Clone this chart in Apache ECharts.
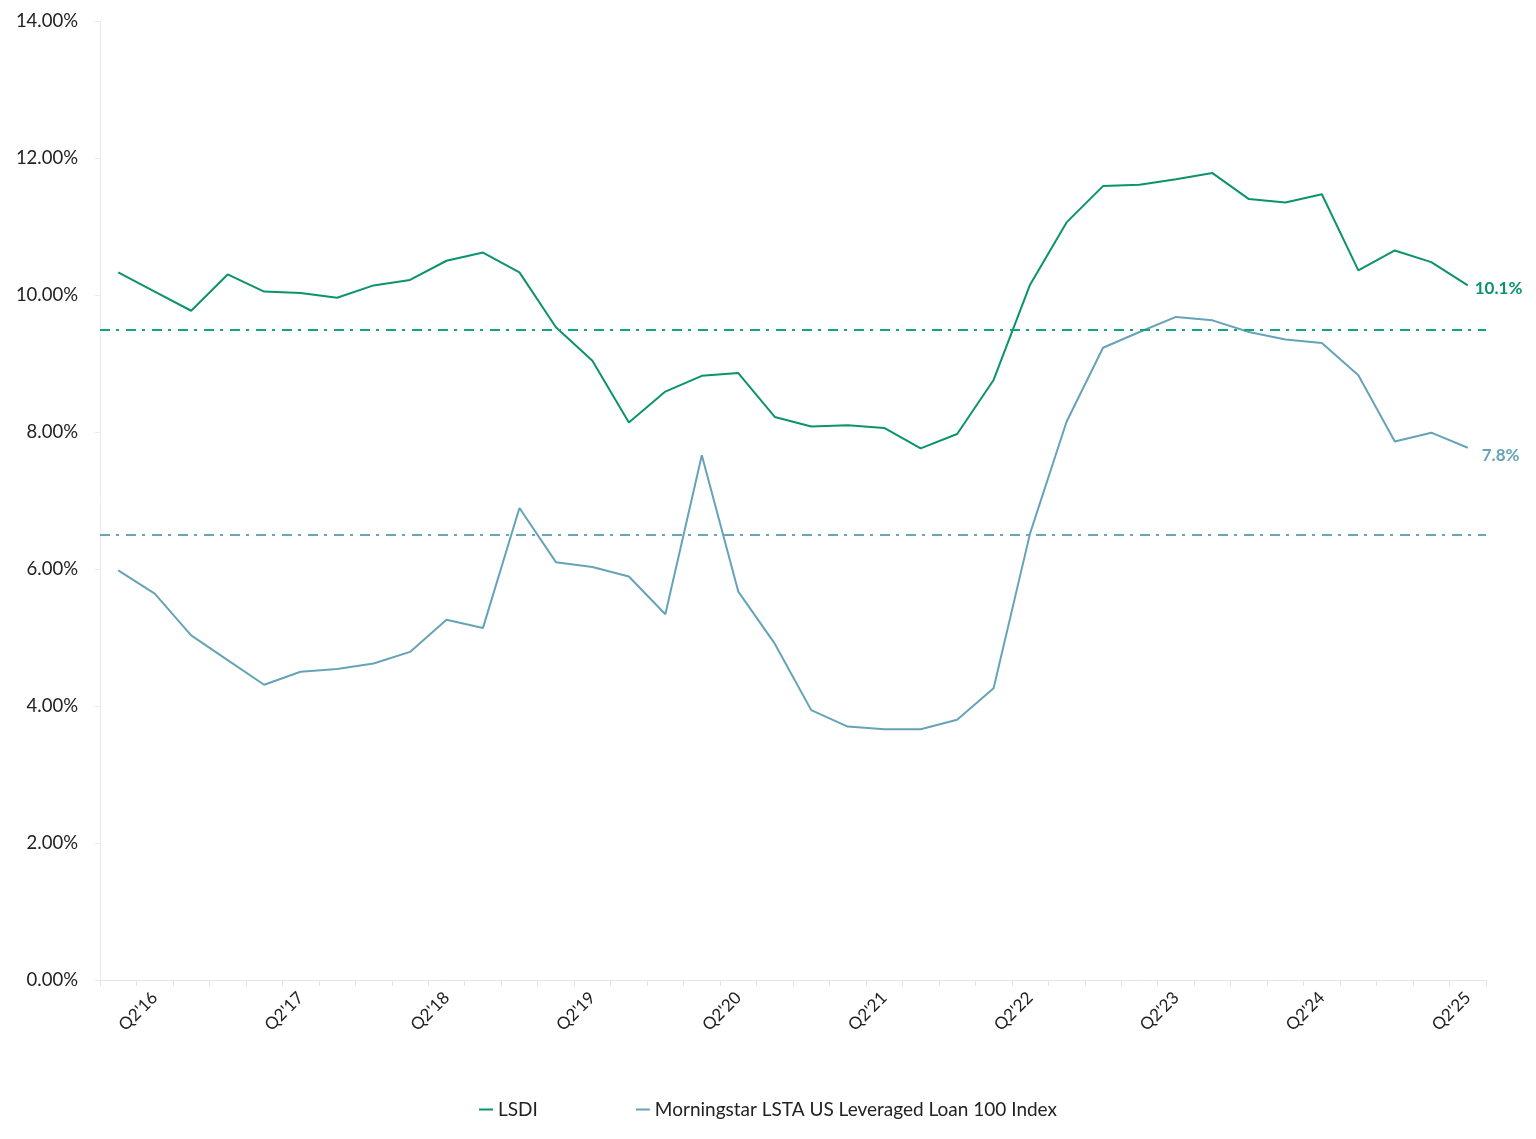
<!DOCTYPE html>
<html>
<head>
<meta charset="utf-8">
<script src="https://cdn.jsdelivr.net/npm/echarts@6/dist/echarts.min.js"></script>
<style>
  html, body { margin: 0; padding: 0; background: #fff; }
  #chart { width: 1536px; height: 1139px; }
</style>
</head>
<body>
<div id="chart"></div>
<script>
// Quarterly categories Q1'16 .. Q2'25
const categories = [
  "Q1'16","Q2'16","Q3'16","Q4'16",
  "Q1'17","Q2'17","Q3'17","Q4'17",
  "Q1'18","Q2'18","Q3'18","Q4'18",
  "Q1'19","Q2'19","Q3'19","Q4'19",
  "Q1'20","Q2'20","Q3'20","Q4'20",
  "Q1'21","Q2'21","Q3'21","Q4'21",
  "Q1'22","Q2'22","Q3'22","Q4'22",
  "Q1'23","Q2'23","Q3'23","Q4'23",
  "Q1'24","Q2'24","Q3'24","Q4'24",
  "Q1'25","Q2'25"
];

const lsdi = [
  10.33, 10.05, 9.77, 10.30, 10.05, 10.03, 9.96, 10.14, 10.22, 10.50,
  10.62, 10.33, 9.53, 9.04, 8.14, 8.59, 8.82, 8.86, 8.22, 8.08,
  8.10, 8.06, 7.76, 7.97, 8.76, 10.15, 11.06, 11.59, 11.61, 11.69,
  11.78, 11.40, 11.35, 11.47, 10.36, 10.65, 10.48, 10.14
];

const lsta = [
  5.98, 5.64, 5.03, 4.67, 4.31, 4.50, 4.54, 4.62, 4.79, 5.26,
  5.14, 6.89, 6.10, 6.03, 5.89, 5.34, 7.66, 5.67, 4.91, 3.94,
  3.70, 3.66, 3.66, 3.80, 4.26, 6.52, 8.15, 9.23, 9.46, 9.68,
  9.63, 9.46, 9.35, 9.30, 8.83, 7.86, 7.99, 7.77
];

const lsdiAvg = 9.5;
const lstaAvg = 6.5;

const seriesNames = ['LSDI', 'Morningstar LSTA US Leveraged Loan 100 Index'];

const GREEN = '#0b936c';
const BLUE = '#66a3b8';
const FONT = 'Lato';

const chart = echarts.init(document.getElementById('chart'));
chart.setOption({
  animation: false,
  backgroundColor: '#ffffff',
  textStyle: { fontFamily: FONT },
  grid: { left: 100, right: 50, top: 21, bottom: 159, containLabel: false },
  legend: {
    bottom: 15,
    left: 'center',
    itemGap: 98,
    itemWidth: 14,
    itemHeight: 10,
    textStyle: { fontFamily: FONT, fontSize: 19, color: '#222' },
    data: [
      { name: seriesNames[0], icon: 'path://M0,4 L14,4 L14,6 L0,6 Z' },
      { name: seriesNames[1], icon: 'path://M0,4 L14,4 L14,6 L0,6 Z' }
    ]
  },
  xAxis: {
    type: 'category',
    data: categories,
    boundaryGap: true,
    axisLine: { show: true, lineStyle: { color: '#e6e4e0', width: 1 } },
    axisTick: { show: true, interval: 0, length: 6, lineStyle: { color: '#e6e4e0' } },
    axisLabel: {
      interval: function (index) { return index % 4 === 1; },
      rotate: 45,
      margin: 15,
      fontFamily: FONT,
      fontSize: 17,
      color: '#222'
    },
    splitLine: { show: false }
  },
  yAxis: {
    type: 'value',
    min: 0,
    max: 14,
    interval: 2,
    axisLine: { show: true, lineStyle: { color: '#ebebeb', width: 1 } },
    axisTick: { show: true, length: 5, lineStyle: { color: '#ebebeb' } },
    axisLabel: {
      margin: 22,
      fontFamily: FONT,
      fontSize: 18.5,
      color: '#222',
      formatter: function (v) { return v.toFixed(2) + '%'; }
    },
    splitLine: { show: false }
  },
  series: [
    {
      name: seriesNames[0],
      type: 'line',
      data: lsdi,
      symbol: 'none',
      lineStyle: { color: GREEN, width: 2 },
      itemStyle: { color: GREEN },
      endLabel: {
        show: true,
        distance: 7,
        offset: [0, 3],
        fontFamily: FONT,
        fontSize: 17,
        fontWeight: 'bold',
        color: GREEN,
        formatter: function (p) { return p.value.toFixed(1) + '%'; }
      },
      markLine: {
        silent: true,
        symbol: 'none',
        label: { show: false },
        lineStyle: { color: '#12a47b', width: 2, type: [10, 6, 3, 7] },
        data: [{ yAxis: lsdiAvg }]
      },
      z: 3
    },
    {
      name: seriesNames[1],
      type: 'line',
      data: lsta,
      symbol: 'none',
      lineStyle: { color: BLUE, width: 2 },
      itemStyle: { color: BLUE },
      endLabel: {
        show: true,
        distance: 14,
        offset: [0, 8],
        fontFamily: FONT,
        fontSize: 17,
        fontWeight: 'bold',
        color: BLUE,
        formatter: function (p) { return p.value.toFixed(1) + '%'; }
      },
      markLine: {
        silent: true,
        symbol: 'none',
        label: { show: false },
        lineStyle: { color: '#6aa6ba', width: 2, type: [10, 6, 3, 7] },
        data: [{ yAxis: lstaAvg }]
      },
      z: 2
    }
  ]
});
</script>
</body>
</html>
